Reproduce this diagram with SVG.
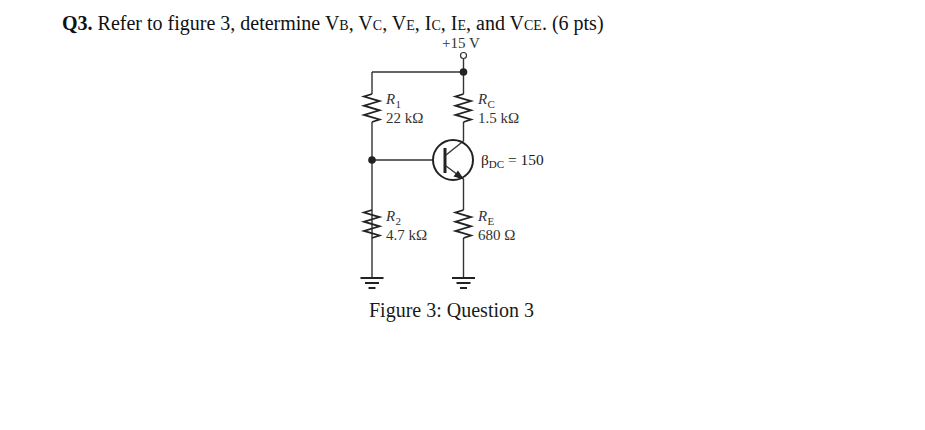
<svg xmlns="http://www.w3.org/2000/svg" width="925" height="430" viewBox="0 0 925 430">
<style>
.t{font-family:"Liberation Serif","Times New Roman",serif;fill:#1a1a1a}
.q{font-size:20px;fill:#111}
.l{font-size:15px;fill:#333}
.s{font-size:11px;fill:#333}
.w{fill:none;stroke:#333;stroke-width:1.4}
.z{fill:none;stroke:#222;stroke-width:1.8;stroke-linejoin:miter}
.g{stroke:#222;stroke-width:2;fill:none}
.d{fill:#222}
</style>
<defs>
<path id="zig" d="M0 0l-8 2.500 15.500 4.600-15.500 4.600 15.500 4.600-15.500 4.600 15.500 4.600-7.500 2.500" class="z"/>
<g id="gnd"><path d="M-11.500 0h23" class="g" stroke-width="2.200"/><path d="M-7 5h14" class="g" stroke-width="1.800"/><path d="M-3.500 10h7" class="g" stroke-width="1.800"/></g>
</defs>
<rect width="925" height="430" fill="#fff"/>
<g id="heading">
<text class="t q" x="62" y="30"><tspan font-weight="bold">Q3.</tspan> Refer to figure 3, determine V<tspan font-size="14">B</tspan>, V<tspan font-size="14">C</tspan>, V<tspan font-size="14">E</tspan>, I<tspan font-size="14">C</tspan>, I<tspan font-size="14">E</tspan>, and V<tspan font-size="14">CE</tspan>. (6 pts)</text>
</g>
<g id="connectors">
<path class="w" d="M463.500 59V94M372 72H463.500M372 72V94M372 122V278M463.500 122V141M372 160H433M463.500 179V210M463.500 238V278"/>
<path class="w" stroke-width="1.200" d="M446 155L463.500 141M446 166L463.500 179"/>
<path class="d" d="M464 179.500L453.500 176.500L458 170.500Z"/>
</g>
<g id="vcc">
<text class="t l" x="442" y="48">+15 V</text>
<circle cx="463.500" cy="55.500" r="3" fill="#fff" stroke="#333" stroke-width="1.200"/>
<circle class="d" cx="463.500" cy="72" r="3.800"/>
</g>
<g id="r1"><use href="#zig" x="372" y="94"/>
<text class="t l" x="386" y="104" font-style="italic">R</text><text class="t s" x="395.500" y="108">1</text>
<text class="t l" x="386" y="123">22 kΩ</text></g>
<g id="rc"><use href="#zig" x="463.500" y="94"/>
<text class="t l" x="478" y="104" font-style="italic">R</text><text class="t s" x="487.500" y="108">C</text>
<text class="t l" x="478" y="123">1.5 kΩ</text></g>
<g id="base-junction"><circle class="d" cx="372" cy="160" r="3.800"/></g>
<g id="transistor">
<circle cx="453" cy="160" r="20" fill="none" stroke="#222" stroke-width="2"/>
<path d="M445 148V173" stroke="#222" stroke-width="3" fill="none"/>
<text class="t" x="481" y="165" font-size="15.400" fill="#333">β<tspan font-size="11" dy="3">DC</tspan><tspan dy="-3"> = 150</tspan></text>
</g>
<g id="r2"><use href="#zig" x="372" y="210"/>
<text class="t l" x="386" y="221" font-style="italic">R</text><text class="t s" x="395.500" y="225">2</text>
<text class="t l" x="386" y="240">4.7 kΩ</text></g>
<g id="re"><use href="#zig" x="463.500" y="210"/>
<text class="t l" x="478" y="221" font-style="italic">R</text><text class="t s" x="487.500" y="225">E</text>
<text class="t l" x="478" y="240">680 Ω</text></g>
<g id="gnd1"><use href="#gnd" x="372" y="278"/></g>
<g id="gnd2"><use href="#gnd" x="463.500" y="278"/></g>
<g id="caption"><text class="t" x="369" y="317" font-size="20" fill="#111">Figure 3: Question 3</text></g>
</svg>
